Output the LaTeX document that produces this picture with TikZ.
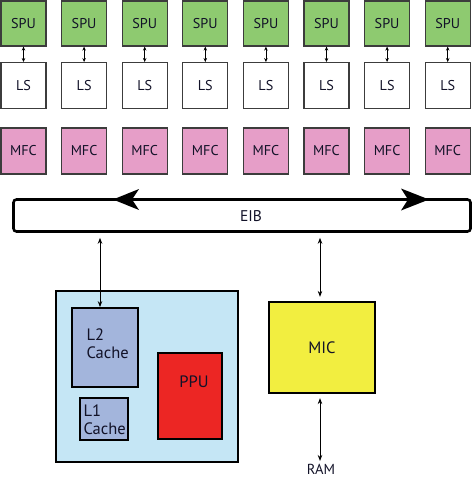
\documentclass[tikz,border=0pt]{standalone}
\usepackage{fontspec}
\setmainfont{PT Sans}
\usetikzlibrary{arrows.meta}
\definecolor{spugreen}{RGB}{142,202,112}
\definecolor{mfcpink}{RGB}{230,158,200}
\definecolor{ppebg}{RGB}{197,230,245}
\definecolor{cachec}{RGB}{163,181,220}
\definecolor{ppured}{RGB}{236,38,36}
\definecolor{micyel}{RGB}{242,238,64}
\definecolor{txt}{RGB}{18,18,40}
\definecolor{edgegray}{RGB}{60,60,60}
\tikzset{
  small/.style={draw=edgegray, line width=1.2pt, minimum width=45pt, minimum height=45pt, inner sep=0pt, text=txt, font=\fontsize{14.2}{16}\selectfont},
  spubox/.style={small, fill=spugreen},
  lsbox/.style={small, fill=white},
  mfcbox/.style={small, fill=mfcpink},
  bigbox/.style={draw=black, line width=2.2pt, inner sep=0pt, text=txt, font=\fontsize{16.5}{18}\selectfont},
  bigtext/.style={text=txt, font=\fontsize{16.5}{18}\selectfont},
  tinyarr/.style={{Stealth[length=4pt,width=3.5pt]}-{Stealth[length=4pt,width=3.5pt]}, line width=0.8pt},
  medarr/.style={{Stealth[length=6pt,width=4.5pt]}-{Stealth[length=6pt,width=4.5pt]}, line width=0.9pt},
}
\begin{document}
\begin{tikzpicture}[x=1pt,y=-1pt]
\useasboundingbox (0,0) rectangle (474,478);
% columns
\foreach \i in {0,...,7} {
  \pgfmathsetmacro{\cx}{23.5+60.6*\i}
  \node[spubox] (spu\i) at (\cx,23.5) {SPU};
  \node[lsbox, minimum height=45.5pt] (ls\i) at (\cx,85.4) {LS};
  \node[mfcbox, minimum height=46pt] (mfc\i) at (\cx,151) {MFC};
  \draw[tinyarr] (spu\i.south) -- (ls\i.north);
}
% EIB
\node[draw=black, line width=2.6pt, rounded corners=3pt, minimum width=457pt, minimum height=32pt, inner sep=0pt] (eib) at (242,215.5) {};
\node[text=txt, font=\fontsize{15.5}{17}\selectfont] (eibt) at (251,216) {EIB};
\fill[black] (113,199.5) -- (139,189) -- (132,199.5) -- (139,210) -- cycle;
\fill[black] (429,199.5) -- (401,188.5) -- (408,199.5) -- (401,210.5) -- cycle;
% PPE block
\node[bigbox, fill=ppebg, minimum width=182pt, minimum height=171pt] (ppe) at (147,376.5) {};
\node[bigbox, line width=1.8pt, fill=cachec, minimum width=66pt, minimum height=79pt] (l2) at (105,347.5) {};
\node[bigtext, align=left, anchor=west] (l2t) at (83,344) {L2\\Cache};
\node[bigbox, line width=1.5pt, fill=cachec, minimum width=48pt, minimum height=42pt] (l1) at (104,419) {};
\node[bigtext, align=left, anchor=west] (l1t) at (80,419.5) {L1\\Cache};
\node[bigbox, fill=ppured, minimum width=64pt, minimum height=86pt] (ppu) at (190,396) {};
\node[bigtext] (pput) at (194,382) {PPU};
% MIC
\node[bigbox, fill=micyel, minimum width=106pt, minimum height=91pt] (mic) at (322,347.5) {MIC};
\node[text=txt, font=\fontsize{14.5}{16}\selectfont, anchor=base, inner sep=0pt] (ram) at (321,474) {RAM};
% connectors
\coordinate (a1) at (100,0);
\coordinate (a2) at (320,0);
\draw[medarr] ([yshift=-5pt]eib.south -| a1) -- (l2.north -| a1);
\draw[medarr] ([yshift=-5pt]eib.south -| a2) -- ([yshift=4pt]mic.north -| a2);
\draw[medarr] ([yshift=-4pt]mic.south -| a2) -- ([yshift=2.5pt]ram.north -| a2);
\end{tikzpicture}
\end{document}
